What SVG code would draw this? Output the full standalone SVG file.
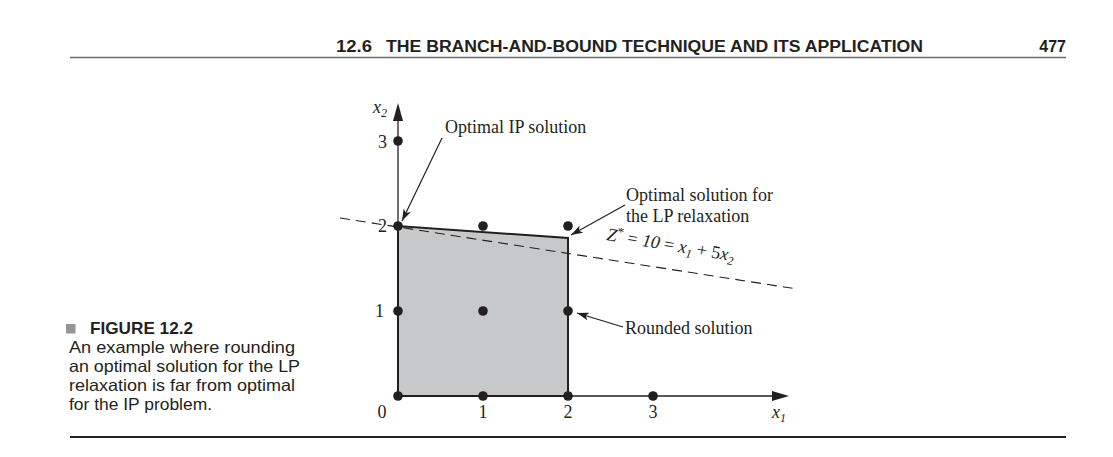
<svg xmlns="http://www.w3.org/2000/svg" width="1113" height="457" viewBox="0 0 1113 457">
<style>
.hdr{font-family:"Liberation Sans",Arial,sans-serif;font-weight:bold;font-size:16px;fill:#231f20}
.cap{font-family:"Liberation Sans",Arial,sans-serif;font-size:16.5px;fill:#231f20}
.tm{font-family:"Liberation Serif","Times New Roman",serif;font-size:18px;fill:#231f20}
.it{font-style:italic}
.sub{font-size:12px}
.ax{stroke:#231f20;stroke-width:1.3;fill:none}
.dot{fill:#231f20}
.lead{stroke:#231f20;stroke-width:1.2;fill:none}
</style>
<defs>
<marker id="ah" viewBox="0 0 12 8" refX="12" refY="4" markerWidth="12" markerHeight="8" markerUnits="userSpaceOnUse" orient="auto">
<path d="M0,0 L12,4 L0,8 L3,4 Z" fill="#231f20"/>
</marker>
</defs>
<rect width="1113" height="457" fill="#ffffff"/>
<g id="header">
<text class="hdr" x="336" y="52" textLength="36" lengthAdjust="spacingAndGlyphs">12.6</text>
<text class="hdr" x="386" y="52" textLength="537" lengthAdjust="spacingAndGlyphs">THE BRANCH-AND-BOUND TECHNIQUE AND ITS APPLICATION</text>
<text class="hdr" x="1066" y="52" text-anchor="end">477</text>
<line x1="70" y1="57.5" x2="1066" y2="57.5" stroke="#6d6e70" stroke-width="1.6"/>
</g>
<g id="caption">
<rect x="66" y="324" width="9.5" height="9.5" fill="#939598"/>
<text class="cap" x="90" y="333.5" font-weight="bold" textLength="103" lengthAdjust="spacingAndGlyphs">FIGURE 12.2</text>
<text class="cap" x="69" y="353" textLength="226" lengthAdjust="spacingAndGlyphs">An example where rounding</text>
<text class="cap" x="69" y="372" textLength="231" lengthAdjust="spacingAndGlyphs">an optimal solution for the LP</text>
<text class="cap" x="69" y="391" textLength="226" lengthAdjust="spacingAndGlyphs">relaxation is far from optimal</text>
<text class="cap" x="69" y="410" textLength="143" lengthAdjust="spacingAndGlyphs">for the IP problem.</text>
<line x1="70" y1="437" x2="1066" y2="437" stroke="#231f20" stroke-width="2"/>
</g>
<g id="region">
<polygon points="398,396 398,226 568,238 568,396" fill="#c7c8ca" stroke="#231f20" stroke-width="2"/>
</g>
<g id="connectors">
<line class="ax" x1="398" y1="396" x2="398" y2="108"/>
<polygon points="398,103 393,121 403,121" fill="#231f20"/>
<line class="ax" x1="398" y1="396" x2="776" y2="396"/>
<polygon points="789,396 772,391 772,401" fill="#231f20"/>
<line x1="340" y1="218" x2="797" y2="289" stroke="#231f20" stroke-width="1.1" stroke-dasharray="10,6"/>
<line class="lead" x1="442" y1="138" x2="402" y2="221" marker-end="url(#ah)"/>
<line class="lead" x1="625" y1="205" x2="571" y2="235" marker-end="url(#ah)"/>
<line class="lead" x1="623" y1="327" x2="577" y2="313" marker-end="url(#ah)"/>
</g>
<g id="points">
<circle class="dot" cx="398" cy="141" r="4.8"/>
<circle class="dot" cx="398" cy="226" r="4.8"/>
<circle class="dot" cx="483" cy="226" r="4.8"/>
<circle class="dot" cx="568" cy="226" r="4.8"/>
<circle class="dot" cx="398" cy="311" r="4.8"/>
<circle class="dot" cx="483" cy="311" r="4.8"/>
<circle class="dot" cx="568" cy="311" r="4.8"/>
<circle class="dot" cx="398" cy="396" r="4.8"/>
<circle class="dot" cx="483" cy="396" r="4.8"/>
<circle class="dot" cx="568" cy="396" r="4.8"/>
<circle class="dot" cx="653" cy="396" r="4.8"/>
</g>
<g id="axis-labels">
<text class="tm it" x="373" y="113">x<tspan class="sub" dy="4">2</tspan></text>
<text class="tm" x="387" y="148" text-anchor="end">3</text>
<text class="tm" x="387" y="232" text-anchor="end">2</text>
<text class="tm" x="384" y="317" text-anchor="end">1</text>
<text class="tm" x="382" y="418" text-anchor="middle">0</text>
<text class="tm" x="483" y="418" text-anchor="middle">1</text>
<text class="tm" x="568" y="418" text-anchor="middle">2</text>
<text class="tm" x="653" y="418" text-anchor="middle">3</text>
<text class="tm it" x="772" y="418">x<tspan class="sub" dy="4">1</tspan></text>
</g>
<g id="labels">
<text class="tm" x="445" y="133">Optimal IP solution</text>
<text class="tm" x="626" y="201">Optimal solution for</text>
<text class="tm" x="626" y="222">the LP relaxation</text>
<text class="tm" x="625" y="334">Rounded solution</text>
<text class="tm" font-size="19" transform="translate(606,240) rotate(9.5)"><tspan class="it">Z</tspan><tspan dy="-6" font-size="13">*</tspan><tspan dy="6"> = </tspan><tspan class="it">10</tspan><tspan> = </tspan><tspan class="it">x</tspan><tspan class="sub it" font-size="13" dy="4">1</tspan><tspan dy="-4"> + 5</tspan><tspan class="it">x</tspan><tspan class="sub it" font-size="13" dy="4">2</tspan></text>
</g>
</svg>
